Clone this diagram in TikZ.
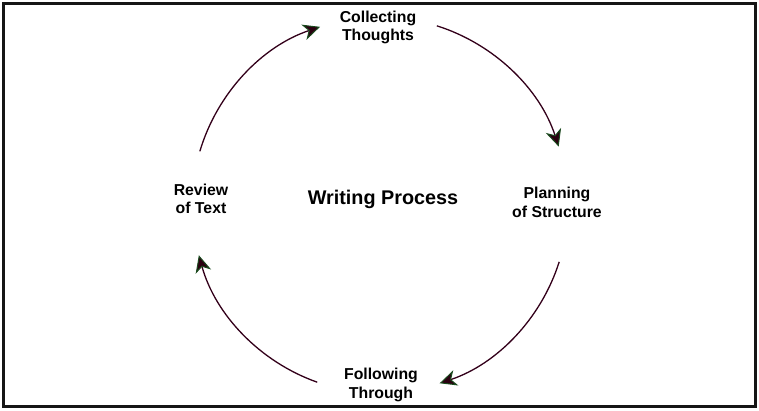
\documentclass[tikz,border=0pt]{standalone}
\usepackage{fontspec}
\setmainfont{Liberation Sans}
\usetikzlibrary{arrows.meta,calc}
\definecolor{framec}{HTML}{161616}
\definecolor{arcc}{HTML}{33001A}
\definecolor{headfill}{HTML}{2A0010}
\definecolor{headedge}{HTML}{1A4A1E}
\tikzset{
  lbl/.style={align=center, font=\bfseries\fontsize{15.8}{18.5}\selectfont, inner sep=0pt},
  ttl/.style={font=\bfseries\fontsize{19.8}{23}\selectfont, inner sep=0pt},
  cyc/.style={draw=arcc, line width=1.3pt,
    -{Stealth[length=17pt,width=16pt,inset=5pt,color=headedge,fill=headfill,line width=1pt]}},
  frame/.style={draw=framec, line width=3pt}
}
\begin{document}
\begin{tikzpicture}[x=1pt,y=1pt]
\useasboundingbox (0,0) rectangle (759,410);
\draw[frame] (3.5,3.5) rectangle (755.5,406.5);
\coordinate (ctr) at (380,205);
\node[ttl] (title) at (383,211) {Writing Process};
\node[lbl] (collect) at (378,382.5) {Collecting\\Thoughts};
\node[lbl] (plan) at (557,207.5) {Planning\\of Structure};
\node[lbl] (follow) at (381,25) {Following\\Through};
\node[lbl] (review) at (201,211) {Review\\of Text};
\coordinate (a1) at ($(ctr)+(72.4:188)$);
\coordinate (a2) at ($(ctr)+(-17.6:188)$);
\coordinate (a3) at ($(ctr)+(-109.5:188)$);
\coordinate (a4) at ($(ctr)+(163.4:188)$);
\draw[cyc] (a1) arc[start angle=72.4, end angle=18.1, radius=188];
\draw[cyc] (a2) arc[start angle=-17.6, end angle=-71.5, radius=188];
\draw[cyc] (a3) arc[start angle=-109.5, end angle=-164.5, radius=188];
\draw[cyc] (a4) arc[start angle=163.4, end angle=108.6, radius=188];
\end{tikzpicture}
\end{document}
